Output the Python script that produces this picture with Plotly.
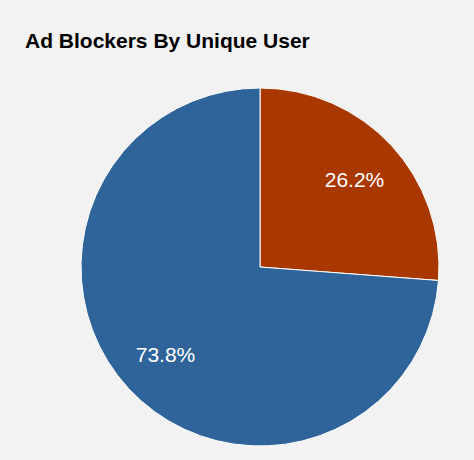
import plotly.graph_objects as go

labels = ["Ad Blocker", "No Ad Blocker"]
values = [26.2, 73.8]
colors = ["#a93800", "#2e6499"]

FONT = "Liberation Sans, Arial, Helvetica, sans-serif"

# solid slices
fig = go.Figure(go.Pie(
    labels=labels,
    values=values,
    sort=False,
    direction="clockwise",
    rotation=0,
    marker=dict(colors=colors, line=dict(color="#ffffff", width=1)),
    textinfo="none",
    showlegend=False,
))

# transparent overlay (same domain) used only to place the percent labels
fig.add_trace(go.Pie(
    labels=labels,
    values=values,
    sort=False,
    direction="clockwise",
    rotation=0,
    hole=0.44,
    marker=dict(colors=["rgba(0,0,0,0)"] * len(values), line=dict(width=0)),
    texttemplate="%{percent:.1%}",
    textposition="inside",
    insidetextorientation="horizontal",
    insidetextfont=dict(color="#ffffff", size=21, family=FONT),
    hoverinfo="skip",
    showlegend=False,
))

fig.update_layout(
    width=474, height=460,
    paper_bgcolor="#f2f2f2",
    plot_bgcolor="#f2f2f2",
    margin=dict(l=81, r=35, t=88, b=14),
    title=dict(
        text="<b>Ad Blockers By Unique User</b>",
        x=25/474, xanchor="left", xref="container",
        y=1 - 41/460, yanchor="middle", yref="container",
        font=dict(size=21, color="#000000", family=FONT),
    ),
)

fig.write_html(
    "out.html",
    config={"displayModeBar": False},
    post_script="document.body.style.margin='0';",
)
